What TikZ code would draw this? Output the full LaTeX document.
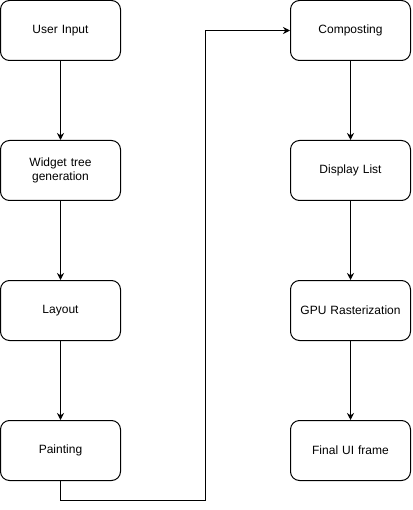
\documentclass[tikz,border=0pt]{standalone}
\usepackage{fontspec}
\setmainfont{Liberation Sans}
\usetikzlibrary{positioning,arrows.meta}

\begin{document}
\begin{tikzpicture}[x=1pt,y=-1pt,every node/.style={align=center},
  stage/.style={draw,fill=white,rounded corners=9pt,line width=1pt,minimum width=120pt,minimum height=60pt,inner sep=2pt,text width=112pt,font=\fontsize{12}{14.5}\selectfont},
  flow/.style={-{Stealth[length=7pt,width=7pt]},line width=1pt}]
  \useasboundingbox (0,0) rectangle (412,510);
  \node[stage] (input) at (60.5,30.5) {User Input};
  \node[stage] (tree) at (60.5,170.5) {Widget tree\\generation};
  \node[stage] (layout) at (60.5,310.5) {Layout};
  \node[stage] (paint) at (60.5,450.5) {Painting};
  \node[stage] (comp) at (350.5,30.5) {Composting};
  \node[stage] (list) at (350.5,170.5) {Display List};
  \node[stage] (gpu) at (350.5,310.5) {GPU Rasterization};
  \node[stage] (frame) at (350.5,450.5) {Final UI frame};
  \coordinate (low) at (205.5,500.5);
  \draw[flow] (input)--(tree);
  \draw[flow] (tree)--(layout);
  \draw[flow] (layout)--(paint);
  \draw[flow] (paint.south) |- (low) |- (comp.west);
  \draw[flow] (comp)--(list);
  \draw[flow] (list)--(gpu);
  \draw[flow] (gpu)--(frame);
\end{tikzpicture}
\end{document}
